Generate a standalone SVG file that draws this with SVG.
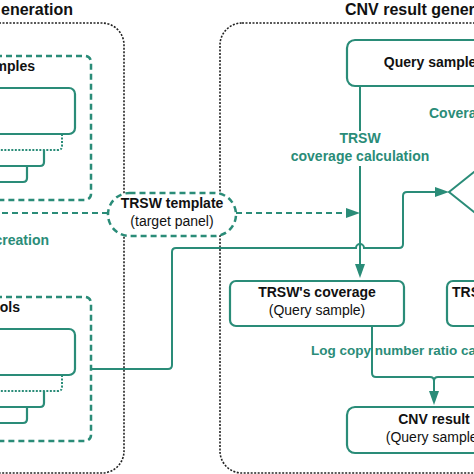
<svg xmlns="http://www.w3.org/2000/svg" width="474" height="474" viewBox="0 0 474 474">
<defs>
<style>
text{font-family:"Liberation Sans",Arial,sans-serif;font-size:14px}
.b{font-weight:bold}
.title{font-size:16px;font-weight:bold;fill:#111}
.k{fill:#111}
.t{fill:#2a8c78;font-weight:bold}
.outer{fill:none;stroke:#222;stroke-width:1.6;stroke-dasharray:2 1.5}
.cont{fill:none;stroke:#2a8c78;stroke-width:2.5;stroke-dasharray:6 4}
.box{fill:#fff;stroke:#2a8c78;stroke-width:2.2}
.lay{fill:none;stroke:#2a8c78;stroke-width:2.2}
.dot{fill:none;stroke:#2a8c78;stroke-width:2;stroke-dasharray:2 1.5}
.con{fill:none;stroke:#2a8c78;stroke-width:2}
.dash{fill:none;stroke:#2a8c78;stroke-width:2;stroke-dasharray:6 4}
</style>
<marker id="ah" markerUnits="userSpaceOnUse" markerWidth="14" markerHeight="10" refX="11" refY="5" orient="auto">
<path d="M0,0 L14,5 L0,10 z" fill="#2a8c78"/>
</marker>
</defs>
<rect width="474" height="474" fill="#fff"/>

<g id="left-panel">
<rect class="outer" x="-100" y="23" width="224" height="450" rx="22"/>
<text class="title" x="73" y="15" text-anchor="end">eneration</text>
</g>
<g id="right-panel">
<rect class="outer" x="220" y="23" width="400" height="450" rx="22"/>
<text class="title" x="345" y="15">CNV result generation</text>
</g>

<g id="samples-group">
<rect class="cont" x="-100" y="56" width="191" height="144" rx="6"/>
<text class="b k" x="35" y="71" text-anchor="end">mples</text>
<path class="lay" d="M27,166 V178 Q27,182 23,182 H-10"/>
<path class="lay" d="M44,150 V162 Q44,166 40,166 H-10"/>
<path class="dot" d="M62,134 V146 Q62,150 58,150 H-10"/>
<rect class="box" x="-100" y="88" width="175" height="46" rx="6"/>
</g>

<g id="controls-group">
<rect class="cont" x="-100" y="297" width="191" height="144" rx="6"/>
<text class="b k" x="20" y="312" text-anchor="end">ols</text>
<path class="lay" d="M27,407 V419 Q27,423 23,423 H-10"/>
<path class="lay" d="M44,391 V403 Q44,407 40,407 H-10"/>
<path class="dot" d="M62,375 V387 Q62,391 58,391 H-10"/>
<rect class="box" x="-100" y="329" width="175" height="46" rx="6"/>
</g>

<text id="creation-label" class="t" x="49" y="245" text-anchor="end">creation</text>

<g id="connectors">
<path class="dash" d="M108,213 H-5"/>
<path class="dash" d="M236,213 H357" marker-end="url(#ah)"/>
<path class="con" d="M360,86 V131"/>
<path class="con" d="M360,166 V275" marker-end="url(#ah)"/>
<path class="con" d="M91,369 H168 Q172,369 172,365 V252 Q172,248 176,248 H356 A4,4 0 0 1 364,248 H399 Q403,248 403,244 V196 Q403,192 407,192 H446" marker-end="url(#ah)"/>
<path class="con" d="M372,326 V373 Q372,377 376,377 H430 Q434,377 434,381 V402" marker-end="url(#ah)"/>
<path class="con" d="M480,377 H438 Q434,377 434,381"/>
</g>

<g id="trsw-template">
<rect x="108" y="193" width="128" height="43" rx="21.5" fill="#fff" stroke="#2a8c78" stroke-width="2.5" stroke-dasharray="6 4"/>
<text class="b k" x="172" y="208" text-anchor="middle">TRSW template</text>
<text class="k" x="172" y="226" text-anchor="middle">(target panel)</text>
</g>

<g id="query-sample">
<rect class="box" x="347" y="40" width="174" height="46" rx="8"/>
<text class="b k" x="434" y="67" text-anchor="middle">Query samples</text>
</g>

<g id="labels">
<text class="t" x="360" y="143" text-anchor="middle">TRSW</text>
<text class="t" x="360" y="161" text-anchor="middle">coverage calculation</text>
<text class="t" x="429" y="118">Coverage</text>
<text class="t" x="311" y="355" style="font-size:13.5px">Log copy number ratio calculation</text>
</g>

<g id="decision">
<polygon points="449,192 499,152 549,192 499,232" fill="#fff" stroke="#2a8c78" stroke-width="2"/>
</g>

<g id="trsw-coverage-query">
<rect class="box" x="230" y="281" width="174" height="45" rx="6"/>
<text class="b k" x="317" y="297" text-anchor="middle">TRSW's coverage</text>
<text class="k" x="317" y="315" text-anchor="middle">(Query sample)</text>
</g>

<g id="trsw-coverage-other">
<rect class="box" x="447" y="281" width="174" height="45" rx="6"/>
<text class="b k" x="452" y="297">TRSW's coverage</text>
</g>

<g id="cnv-result">
<rect class="box" x="347" y="407" width="174" height="46" rx="8"/>
<text class="b k" x="434" y="424" text-anchor="middle">CNV result</text>
<text class="k" x="434" y="442" text-anchor="middle">(Query sample)</text>
</g>
</svg>
